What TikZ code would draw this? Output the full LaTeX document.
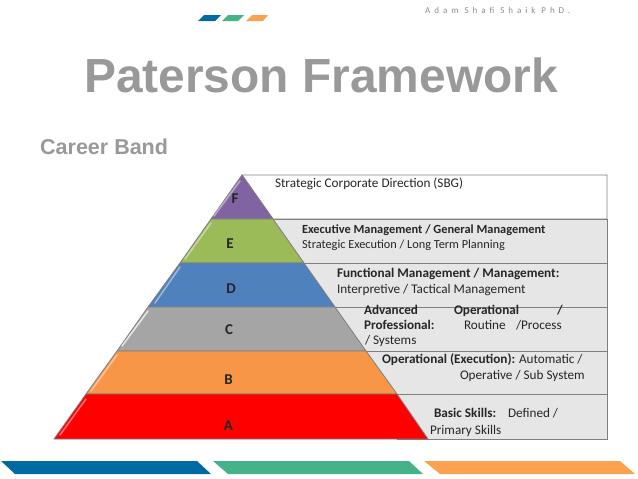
\documentclass[tikz,border=0pt]{standalone}
\usepackage{fontspec}
\setmainfont{Carlito}
\newfontfamily\arialf{Liberation Sans}
\definecolor{bandF}{HTML}{8064A2}
\definecolor{bandE}{HTML}{9BBB59}
\definecolor{bandD}{HTML}{4F81BD}
\definecolor{bandC}{HTML}{A5A5A5}
\definecolor{bandB}{HTML}{F79646}
\definecolor{bandA}{HTML}{FF0000}
\definecolor{rowfill}{HTML}{E6E6E6}
\definecolor{rowline}{HTML}{7F7F7F}
\definecolor{ftblue}{HTML}{006AA3}
\definecolor{ftgreen}{HTML}{45B28A}
\definecolor{ftorange}{HTML}{FBA251}
\definecolor{inktext}{HTML}{262626}
\tikzset{
  x=1pt,y=-1pt,
  row/.style={fill=rowfill,draw=rowline,line width=0.8pt},
  band/.style={draw=rowline,line width=0.8pt,line join=round},
  shine/.style={line width=1.6pt,line cap=round,opacity=0.7},
  txt/.style={anchor=base west,inner sep=0pt,outer sep=0pt,text=inktext,font=\fontsize{13.2}{15}\selectfont},
  btxt/.style={txt,font=\fontsize{13.2}{15}\selectfont\bfseries},
  small/.style={txt,font=\fontsize{12.3}{14}\selectfont},
  bsmall/.style={txt,font=\fontsize{12.4}{14}\selectfont\bfseries},
  letter/.style={anchor=base,inner sep=0pt,text=black!85,font=\fontsize{15}{17}\selectfont\bfseries},
}
\begin{document}
\begin{tikzpicture}
\useasboundingbox (0,0) rectangle (638,479);
% rows
\draw[row,fill=white] (242,175) -- (607,175) -- (607,219) -- (273,219) -- cycle;
\draw[row] (273,219) rectangle (607,263);
\draw[row] (304,263) rectangle (607,307);
\draw[row] (335,307) rectangle (607,351);
\draw[row] (366,351) rectangle (607,394);
\draw[row] (397,394) rectangle (607,439);
% pyramid
\draw[band,fill=bandF] (242,175) -- (273,219) -- (211,219) -- cycle;
\draw[band,fill=bandE] (211,219) -- (273,219) -- (304,263) -- (180,263) -- cycle;
\draw[band,fill=bandD] (180,263) -- (304,263) -- (335,307) -- (148,307) -- cycle;
\draw[band,fill=bandC] (148,307) -- (335,307) -- (366,351) -- (117,351) -- cycle;
\draw[band,fill=bandB] (117,351) -- (366,351) -- (397,394) -- (86,394) -- cycle;
\draw[band,fill=bandA] (86,394) -- (397,394) -- (428,439) -- (54,439) -- cycle;
% highlights
\draw[shine,white!60!bandF] (214,216) -- (240,181);
\draw[shine,white!60!bandE] (185,259) -- (211,223);
\draw[shine,white!60!bandD] (155,303) -- (180,267);
\draw[shine,white] (122,346) -- (148,311);
\draw[shine,white!60!bandB] (91,391) -- (117,355);
\draw[shine,white!60!bandA] (60,435) -- (86,399);
% letters
\node[letter] (lF) at (235,203) {F};
\node[letter] (lE) at (230,248) {E};
\node[letter] (lD) at (231,293) {D};
\node[letter] (lC) at (229,334) {C};
\node[letter] (lB) at (228.5,384) {B};
\node[letter] (lA) at (228.5,430) {A};
% texts
\node[txt] (t1) at (275,187) {Strategic Corporate Direction (SBG)};
\node[bsmall] (t2) at (302,233) {Executive Management / General Management};
\node[small] (t3) at (302,248) {Strategic Execution / Long Term Planning};
\node[btxt] (t4) at (337,277) {Functional Management / Management:};
\node[txt] (t5) at (337,293) {Interpretive / Tactical Management};
\node[btxt] (t6a) at (364,314) {Advanced};
\node[btxt] (t6b) at (454,314) {Operational};
\node[btxt] (t6c) at (557,314) {/};
\node[btxt] (t7a) at (364,329) {Professional:};
\node[txt] (t7b) at (464,329) {Routine};
\node[txt] (t7c) at (516,329) {/Process};
\node[txt] (t8) at (365,344) {/ Systems};
\node[btxt] (t9a) at (382,363) {Operational (Execution):};
\node[txt] (t9b) at (519,363) {Automatic /};
\node[txt] (t10) at (460,379) {Operative / Sub System};
\node[btxt] (t11a) at (434,417) {Basic Skills:};
\node[txt] (t11b) at (508,417) {Defined /};
\node[txt] (t12) at (430,434) {Primary Skills};
% footer
\fill[ftblue] (1,461) -- (197,461) -- (211,474) -- (15,474) -- cycle;
\fill[ftgreen] (213,461) -- (409,461) -- (423,474) -- (228,474) -- cycle;
\fill[ftorange] (424,461) -- (620,461) -- (635,474) -- (440,474) -- cycle;
% header marks
\fill[ftblue] (204,15) -- (221,15) -- (215,21) -- (198,21) -- cycle;
\fill[ftgreen] (228,15) -- (244,15) -- (238,21) -- (222,21) -- cycle;
\fill[ftorange] (252,15) -- (268,15) -- (263,21) -- (246,21) -- cycle;
% header text and titles
\node[anchor=base west,inner sep=0pt,text=black!45,font=\fontsize{9}{11}\selectfont\addfontfeature{LetterSpace=44}] (author) at (425,13.5) {Adam Shafi Shaik PhD.};
\node[anchor=base west,inner sep=0pt,text=black!40,font=\arialf\fontsize{47.9}{54}\selectfont\bfseries] (title) at (84,92) {Paterson Framework};
\node[anchor=base west,inner sep=0pt,text=black!40,font=\arialf\fontsize{21.5}{25}\selectfont\bfseries] (career) at (40,154) {Career Band};
\end{tikzpicture}
\end{document}
